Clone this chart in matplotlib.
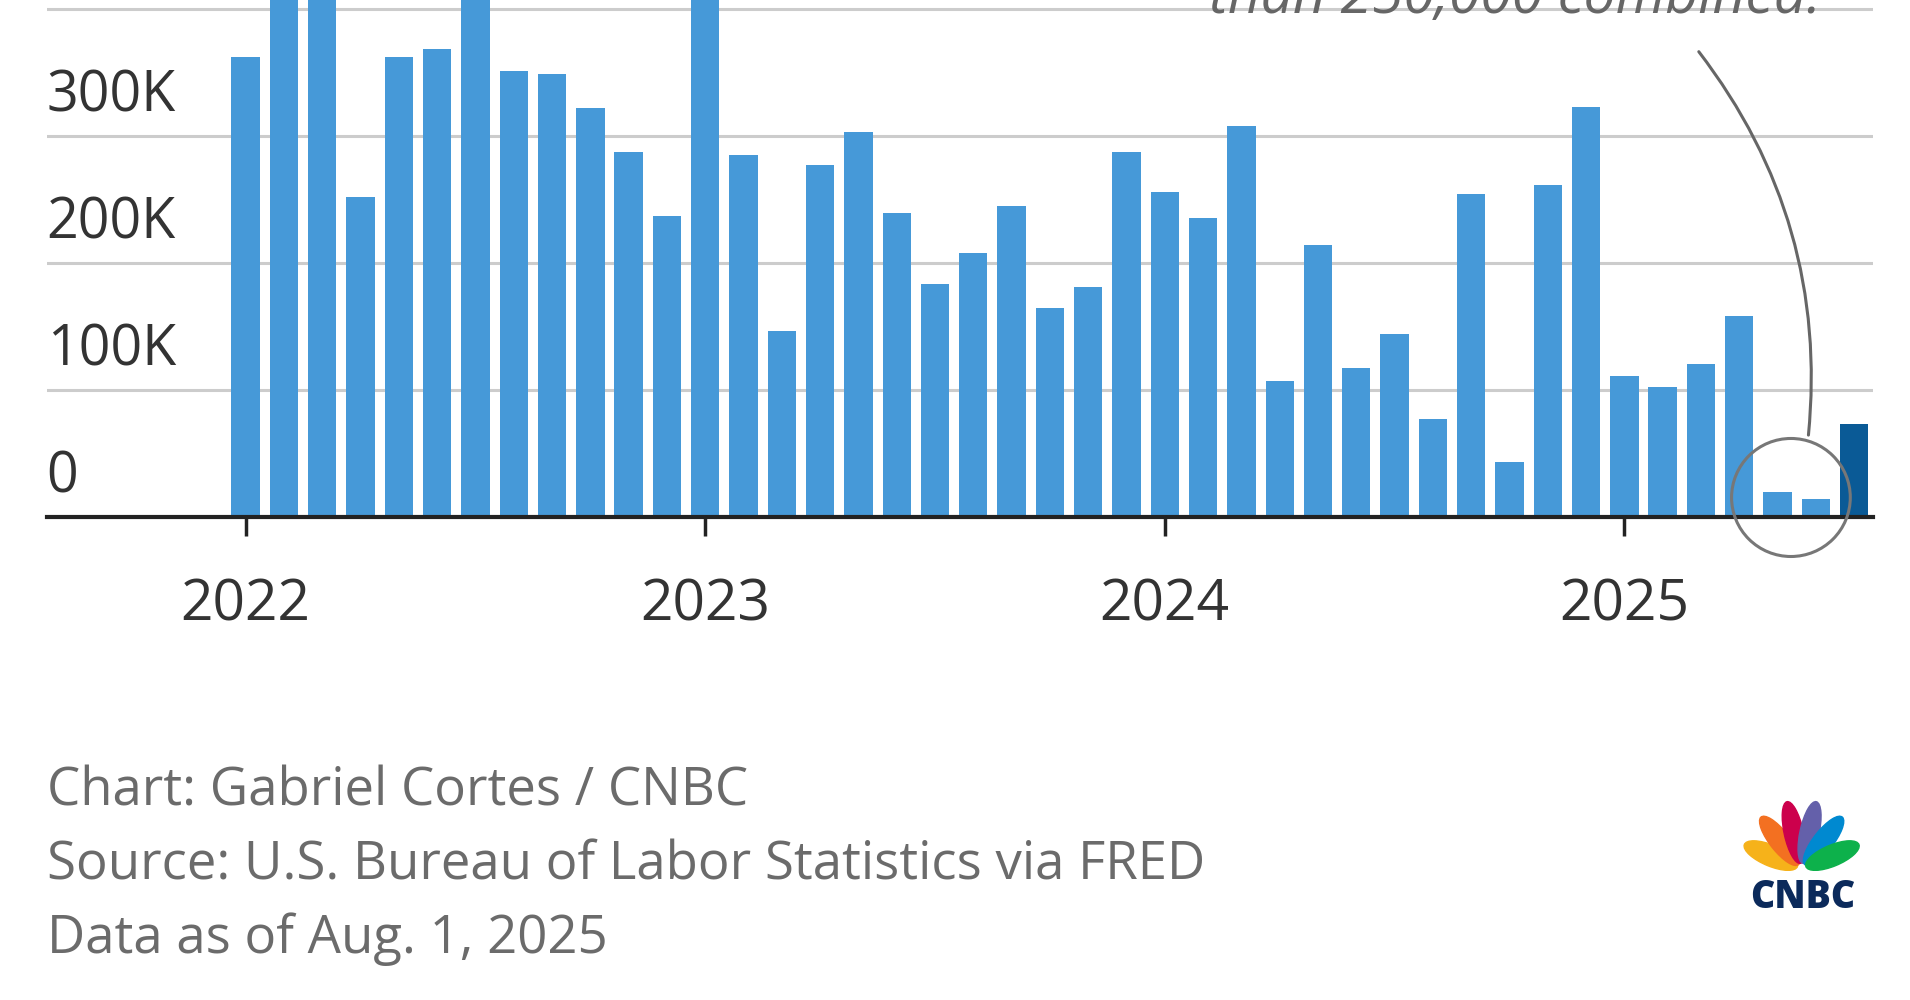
import matplotlib
matplotlib.use("Agg")
import matplotlib.pyplot as plt
from matplotlib.patches import Ellipse, FancyArrowPatch
import numpy as np

plt.rcParams['font.family'] = ['Open Sans', 'DejaVu Sans']

values_k = [362, 660, 420, 252, 362, 368, 500, 351, 349, 322, 287, 237,
            470, 285, 146, 277, 303, 239, 183, 208, 245, 164, 181, 287,
            256, 235, 308, 107, 214, 117, 144, 77, 254, 43, 261, 323,
            111, 102, 120, 158, 19, 14, 73]
yticks = [0, 100, 200, 300, 400]
ytick_labels = ["0", "100K", "200K", "300K", ""]
years = ["2022", "2023", "2024", "2025"]
footer = ["Chart: Gabriel Cortes / CNBC",
          "Source: U.S. Bureau of Labor Statistics via FRED",
          "Data as of Aug. 1, 2025"]
note = "than 250,000 combined."

W, H = 1910, 1000
fig = plt.figure(figsize=(W/100, H/100), dpi=100)
def fx(x): return x/1560
def fy(y): return 1 - y/817

ax = fig.add_axes([fx(38), fy(422), fx(1530)-fx(38), fy(0)-fy(422)])
x = np.arange(len(values_k))
colors = ['#4699d8']*(len(values_k)-1) + ['#0a5a96']
ax.bar(x, [v*1000 for v in values_k], width=0.74, color=colors, zorder=2)
ax.set_xlim(-5.2, 42.5)
ax.set_ylim(0, 407000)
for t in yticks[1:]:
    ax.axhline(t*1000, color='#cccccc', lw=2.2, zorder=1)
for s in ax.spines.values():
    s.set_visible(False)
ax.axhline(0, color='#222222', lw=3, zorder=3, clip_on=False)
ax.set_yticks([])
ax.set_xticks([12*i for i in range(4)])
ax.set_xticklabels(years, fontsize=41, color='#333333')
ax.tick_params(axis='x', length=14, width=2.5, color='#222222', pad=30)
for t, lab in zip(yticks, ytick_labels):
    if lab:
        ax.text(-5.2, t*1000 + 8000, lab, fontsize=40, color='#333333',
                ha='left', va='bottom', zorder=4)

ax.add_patch(Ellipse((40.35, 15000), 3.1, 93000, fill=False, ec='#777777', lw=2.2, zorder=5, clip_on=False))
ax.add_patch(FancyArrowPatch((37.9, 368000), (40.8, 62000),
             connectionstyle="arc3,rad=-0.2", arrowstyle='-', color='#666666', lw=2.2, zorder=5))
fig.text(fx(1237), fy(0) + 0.002, note, fontsize=41, style='italic', color='#666666',
         ha='center', va='center')

for i, line in enumerate(footer):
    fig.text(fx(38), fy(647 + 60*i), line, fontsize=38, color='#6b6b6b', ha='left', va='center')

fig.text(fx(1472), fy(733), "CNBC", fontsize=27, fontweight='heavy', color='#0b2a5b', ha='center', va='center')
lax = fig.add_axes([fx(1418), fy(712), fx(1525)-fx(1418), fy(652)-fy(712)])
lax.set_xlim(-1.1, 1.1); lax.set_ylim(0, 1.1); lax.axis('off')
fcol = ['#f6b21a', '#f37021', '#cc004c', '#6460aa', '#0089d0', '#0db14b']
angs = np.linspace(160, 20, 6)
for a, c in zip(angs, fcol):
    r = np.radians(a)
    lax.add_patch(Ellipse((0.55*np.cos(r), 0.05 + 0.55*np.sin(r)), 0.95, 0.32, angle=a, color=c))

fig.savefig("out.png", dpi=100, facecolor='white')
